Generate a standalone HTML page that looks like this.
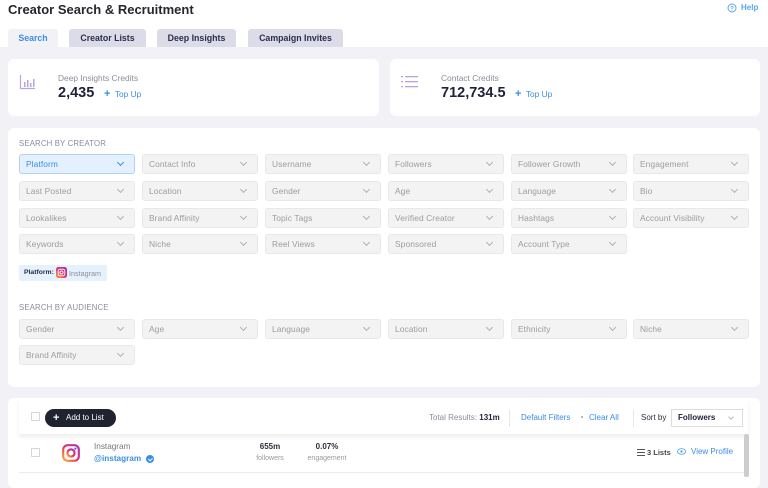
<!DOCTYPE html>
<html><head><meta charset="utf-8"><style>
*{margin:0;padding:0;box-sizing:border-box}
html,body{width:768px;height:477px;overflow:hidden;background:#f2f2f6;font-family:"Liberation Sans",sans-serif}
.abs{position:absolute}
.top{left:0;top:0;width:768px;height:47px;background:#fff}
.title{left:8px;top:2px;font-size:13px;font-weight:bold;color:#25272e;white-space:nowrap}
.help{left:741px;top:3px;font-size:8px;font-weight:bold;color:#5aa6ee}
.tab{top:29px;height:18px;border-radius:3px 3px 0 0;background:#dcdce9;font-size:8.8px;font-weight:bold;color:#2b2e45;text-align:center;line-height:19px;white-space:nowrap}
.tab.act{background:#f2f2f6;color:#3a8ee6;font-weight:bold}
.card{background:#fff;border-radius:6px}
.lbl{font-size:8.4px;color:#8b8d99;white-space:nowrap}
.num{font-size:14.5px;font-weight:bold;color:#1e2138;white-space:nowrap}
.tu{font-size:8.3px;color:#3a8ee6;white-space:nowrap}
.sec{font-size:7.8px;color:#8a8ca0;letter-spacing:.15px;white-space:nowrap}
.dd{width:116px;height:20px;background:#f3f3f3;border:1px solid #e8e8e8;border-radius:3px;font-size:8.4px;color:#9c9c9c;line-height:18px;padding-left:6px;white-space:nowrap;letter-spacing:.1px}
.dd:after{content:"";position:absolute;right:11px;top:5px;width:4px;height:4px;border-right:1px solid #b0b0b0;border-bottom:1px solid #b0b0b0;transform:rotate(45deg)}
.dd.on{background:#e4f0fd;border-color:#b1d2f4;color:#3a8ee6}
.dd.on:after{border-color:#3a8ee6}
.t8{font-size:8px;white-space:nowrap}
</style></head><body>
<div class="abs top"></div>
<div class="abs title">Creator Search &amp; Recruitment</div>
<svg class="abs" style="left:727px;top:3px" width="10" height="10" viewBox="0 0 10 10"><circle cx="5" cy="5" r="4" fill="none" stroke="#5aa6ee" stroke-width="1"/><text x="5" y="7.3" font-size="6" text-anchor="middle" fill="#5aa6ee" font-family="Liberation Sans" font-weight="bold">?</text></svg>
<div class="abs help">Help</div>

<div class="abs tab act" style="left:8px;width:50px">Search</div>
<div class="abs tab" style="left:69px;width:77px">Creator Lists</div>
<div class="abs tab" style="left:157px;width:79px">Deep Insights</div>
<div class="abs tab" style="left:248px;width:95px">Campaign Invites</div>

<!-- credit cards -->
<div class="abs card" style="left:8px;top:59px;width:371px;height:57px"></div>
<svg class="abs" style="left:19px;top:74px" width="17" height="16" viewBox="0 0 17 16"><path d="M1.5 1v13.5H16" fill="none" stroke="#b9a3e3" stroke-width="1.2"/><rect x="5" y="8" width="1.5" height="5" fill="#b9a3e3"/><rect x="8" y="6" width="1.5" height="7" fill="#b9a3e3"/><rect x="11" y="9" width="1.5" height="4" fill="#b9a3e3"/><rect x="14" y="5" width="1.5" height="8" fill="#b9a3e3"/></svg>
<div class="abs lbl" style="left:58px;top:73px">Deep Insights Credits</div>
<div class="abs num" style="left:58px;top:85px">2,435</div>
<div class="abs tu" style="left:104px;top:88px"><span style="font-size:11px;font-weight:bold">+</span>&nbsp; Top Up</div>

<div class="abs card" style="left:390px;top:59px;width:370px;height:57px"></div>
<svg class="abs" style="left:401px;top:75px" width="18" height="15" viewBox="0 0 18 15"><g fill="#b9a3e3"><rect x="0" y="1" width="2" height="1.3"/><rect x="0" y="6" width="2" height="1.3"/><rect x="0" y="11" width="2" height="1.3"/><rect x="4" y="1" width="13" height="1.3"/><rect x="4" y="6" width="13" height="1.3"/><rect x="4" y="11" width="13" height="1.3"/></g></svg>
<div class="abs lbl" style="left:441px;top:73px">Contact Credits</div>
<div class="abs num" style="left:441px;top:85px">712,734.5</div>
<div class="abs tu" style="left:515px;top:88px"><span style="font-size:11px;font-weight:bold">+</span>&nbsp; Top Up</div>

<!-- search card -->
<div class="abs card" style="left:8px;top:128px;width:752px;height:259px"></div>
<div class="abs sec" style="left:19px;top:139px">SEARCH BY CREATOR</div>

<div class="abs dd on" style="left:19px;top:154px">Platform</div>
<div class="abs dd" style="left:142px;top:154px">Contact Info</div>
<div class="abs dd" style="left:265px;top:154px">Username</div>
<div class="abs dd" style="left:388px;top:154px">Followers</div>
<div class="abs dd" style="left:511px;top:154px">Follower Growth</div>
<div class="abs dd" style="left:633px;top:154px">Engagement</div>

<div class="abs dd" style="left:19px;top:181px">Last Posted</div>
<div class="abs dd" style="left:142px;top:181px">Location</div>
<div class="abs dd" style="left:265px;top:181px">Gender</div>
<div class="abs dd" style="left:388px;top:181px">Age</div>
<div class="abs dd" style="left:511px;top:181px">Language</div>
<div class="abs dd" style="left:633px;top:181px">Bio</div>

<div class="abs dd" style="left:19px;top:208px">Lookalikes</div>
<div class="abs dd" style="left:142px;top:208px">Brand Affinity</div>
<div class="abs dd" style="left:265px;top:208px">Topic Tags</div>
<div class="abs dd" style="left:388px;top:208px">Verified Creator</div>
<div class="abs dd" style="left:511px;top:208px">Hashtags</div>
<div class="abs dd" style="left:633px;top:208px">Account Visibility</div>

<div class="abs dd" style="left:19px;top:234px">Keywords</div>
<div class="abs dd" style="left:142px;top:234px">Niche</div>
<div class="abs dd" style="left:265px;top:234px">Reel Views</div>
<div class="abs dd" style="left:388px;top:234px">Sponsored</div>
<div class="abs dd" style="left:511px;top:234px">Account Type</div>

<div class="abs" style="left:19px;top:265px;width:88px;height:16px;background:#e5f1fc;border-radius:2px"></div>
<div class="abs" style="left:24px;top:269px;font-size:6.8px;font-weight:bold;color:#2a2d40;white-space:nowrap">Platform:</div>
<svg class="abs" style="left:56px;top:267px" width="11" height="11" viewBox="0 0 11 11"><defs><linearGradient id="g1" x1="0" y1="1" x2="1" y2="0"><stop offset="0" stop-color="#f9a33a"/><stop offset=".5" stop-color="#e1306c"/><stop offset="1" stop-color="#8a3ab9"/></linearGradient></defs><rect width="11" height="11" rx="2.5" fill="url(#g1)"/><rect x="2.2" y="2.2" width="6.6" height="6.6" rx="1.8" fill="none" stroke="#fff" stroke-width=".9"/><circle cx="5.5" cy="5.5" r="1.6" fill="none" stroke="#fff" stroke-width=".9"/></svg>
<div class="abs" style="left:69px;top:269px;font-size:7.2px;color:#8b8d99;white-space:nowrap">Instagram</div>

<div class="abs sec" style="left:19px;top:303px">SEARCH BY AUDIENCE</div>
<div class="abs dd" style="left:19px;top:319px">Gender</div>
<div class="abs dd" style="left:142px;top:319px">Age</div>
<div class="abs dd" style="left:265px;top:319px">Language</div>
<div class="abs dd" style="left:388px;top:319px">Location</div>
<div class="abs dd" style="left:511px;top:319px">Ethnicity</div>
<div class="abs dd" style="left:633px;top:319px">Niche</div>
<div class="abs dd" style="left:19px;top:345px">Brand Affinity</div>

<!-- results -->
<div class="abs card" style="left:8px;top:398px;width:752px;height:90px"></div>
<div class="abs" style="left:19px;top:398px;width:729px;height:36px;background:#fff;box-shadow:0 3px 4px rgba(0,0,0,.07)"></div>
<div class="abs" style="left:31px;top:412px;width:9px;height:9px;border:1px solid #d6d6d6;border-radius:1px;background:#fff"></div>
<div class="abs" style="left:45px;top:409px;width:71px;height:18px;background:#1f2330;border-radius:9px;color:#fff;font-size:8px;line-height:18px;white-space:nowrap"><span style="position:absolute;left:8px;top:0;font-size:11px;font-weight:bold">+</span><span style="position:absolute;left:21px">Add to List</span></div>

<div class="abs t8" style="left:429px;top:413px;color:#8b8d99">Total Results: <b style="color:#1e2138">131m</b></div>
<div class="abs" style="left:509px;top:410px;width:1px;height:17px;background:#e6e6e6"></div>
<div class="abs t8" style="left:521px;top:413px;color:#3a8ee6">Default Filters</div>
<div class="abs" style="left:581px;top:416px;width:2px;height:2px;border-radius:1px;background:#9aa"></div>
<div class="abs t8" style="left:589px;top:413px;color:#3a8ee6">Clear All</div>
<div class="abs" style="left:633px;top:410px;width:1px;height:17px;background:#e6e6e6"></div>
<div class="abs t8" style="left:641px;top:413px;color:#2b2d3a">Sort by</div>
<div class="abs" style="left:671px;top:409px;width:72px;height:18px;border:1px solid #dcdcdc;background:#fff;font-size:8px;font-weight:bold;color:#1e2138;line-height:16px;padding-left:6px">Followers<span style="position:absolute;right:9px;top:5px;width:4px;height:4px;border-right:1px solid #bbb;border-bottom:1px solid #bbb;transform:rotate(45deg)"></span></div>

<div class="abs" style="left:19px;top:472px;width:725px;height:1px;background:#ececec"></div>
<div class="abs" style="left:31px;top:448px;width:9px;height:9px;border:1px solid #d6d6d6;border-radius:1px"></div>
<svg class="abs" style="left:62px;top:444px" width="18" height="18" viewBox="0 0 18 18"><defs><linearGradient id="g2" x1="0" y1="1" x2="1" y2="0"><stop offset="0" stop-color="#fbb33a"/><stop offset=".45" stop-color="#f0355f"/><stop offset="1" stop-color="#9b35c7"/></linearGradient></defs><rect x="1.2" y="1.2" width="15.6" height="15.6" rx="4.5" fill="none" stroke="url(#g2)" stroke-width="2.2"/><circle cx="9" cy="9" r="3.6" fill="none" stroke="url(#g2)" stroke-width="2.2"/><circle cx="13.4" cy="4.6" r="1.1" fill="#b43bb8"/></svg>
<div class="abs t8" style="left:94px;top:442px;color:#777;font-size:8.2px">Instagram</div>
<div class="abs t8" style="left:94px;top:454px;color:#3a8ee6;font-weight:bold;font-size:8.2px">@instagram</div>
<div class="abs" style="left:146px;top:455px;width:8px;height:8px;border-radius:4px;background:#3a8ee6"></div>
<div class="abs" style="left:148.5px;top:456.5px;width:3px;height:4px;border-right:1px solid #fff;border-bottom:1px solid #fff;transform:rotate(45deg)"></div>

<div class="abs t8" style="left:250px;top:442px;width:40px;text-align:center;font-weight:bold;color:#2b2d3a">655m</div>
<div class="abs" style="left:250px;top:455px;width:40px;text-align:center;font-size:7px;color:#999">followers</div>
<div class="abs t8" style="left:302px;top:442px;width:50px;text-align:center;font-weight:bold;color:#2b2d3a">0.07%</div>
<div class="abs" style="left:302px;top:455px;width:50px;text-align:center;font-size:7px;color:#999">engagement</div>

<svg class="abs" style="left:637px;top:449px" width="8" height="7" viewBox="0 0 8 7"><g fill="#555"><rect y="0" width="8" height="1"/><rect y="3" width="8" height="1"/><rect y="6" width="8" height="1"/></g></svg>
<div class="abs" style="left:647px;top:448px;font-size:7.5px;font-weight:bold;color:#444;white-space:nowrap">3 Lists</div>
<svg class="abs" style="left:677px;top:448px" width="9" height="7" viewBox="0 0 9 7"><ellipse cx="4.5" cy="3.5" rx="4" ry="2.8" fill="none" stroke="#5aa6ee" stroke-width=".9"/><circle cx="4.5" cy="3.5" r="1.2" fill="#5aa6ee"/></svg>
<div class="abs t8" style="left:691px;top:447px;color:#3a8ee6">View Profile</div>
<div class="abs" style="left:744px;top:434px;width:5px;height:43px;background:#cdcdcd;border-radius:2px"></div>
</body></html>
